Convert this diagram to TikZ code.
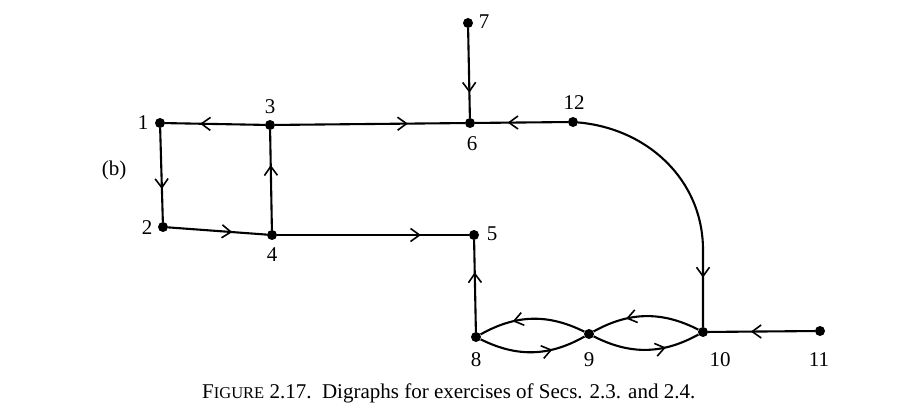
\documentclass[tikz,border=0pt]{standalone}
\usepackage{fontspec}
\setmainfont{Liberation Serif}
\usetikzlibrary{arrows.meta, decorations.markings}

\begin{document}
\begin{tikzpicture}[
        x=1pt, y=1pt,
        vertex/.style={
          circle,
          fill,
          inner sep=0pt,
          minimum size=10pt
        },
        num/.style={
          font=\fontsize{21}{24}\selectfont,
          inner sep=1pt
        },
        edge/.style={
          line width=2.1pt,
          postaction={decorate},
          decoration={markings,
            mark=at position #1 with {\arrow{Straight Barb[length=9pt,width=13pt,line width=1.6pt]}}}
        },
        edge/.default=0.65
      ]

      \useasboundingbox (0,0) rectangle (910,418);

      % Vertices
      \node[vertex] (v1) at (160,295) {};
      \node[vertex] (v2) at (163,191) {};
      \node[vertex] (v3) at (270,293) {};
      \node[vertex] (v4) at (272,183) {};
      \node[vertex] (v5) at (474,183) {};
      \node[vertex] (v6) at (470,295) {};
      \node[vertex] (v7) at (468,395) {};
      \node[vertex] (v8) at (476,81) {};
      \node[vertex] (v9) at (589,84) {};
      \node[vertex] (v10) at (703,86) {};
      \node[vertex] (v11) at (820,87) {};
      \node[vertex] (v12) at (573,296) {};
      \coordinate (bend) at (703,168);

      % Vertex numbers
      \node[num] (l1) at (143,295) {1};
      \node[num] (l2) at (147,190) {2};
      \node[num] (l3) at (270,311) {3};
      \node[num] (l4) at (272,163) {4};
      \node[num] (l5) at (492,184) {5};
      \node[num] (l6) at (472,274) {6};
      \node[num] (l7) at (484,396) {7};
      \node[num] (l8) at (476,58) {8};
      \node[num] (l9) at (589,58) {9};
      \node[num] (l10) at (720,58) {10};
      \node[num] (l11) at (819,58) {11};
      \node[num] (l12) at (574,315) {12};
      \node[num] (b) at (114,248) {(b)};

      % Arcs
      \draw[edge] (v3) -- (v1);
      \draw[edge=0.7] (v3) -- (v6);
      \draw[edge] (v12) -- (v6);
      \draw[edge=0.72] (v7) -- (v6);
      \draw[edge] (v1) -- (v2);
      \draw[edge] (v4) -- (v3);
      \draw[edge] (v2) -- (v4);
      \draw[edge=0.75] (v4) -- (v5);
      \draw[edge] (v8) -- (v5);
      \draw[edge=0.6] (v11) -- (v10);
      \draw[edge=0.82] (v12) to[out=-5, in=90] (bend) -- (v10);
      \draw[edge=0.68] (v8) to[bend right=28] (v9);
      \draw[edge=0.68] (v9) to[bend right=28] (v8);
      \draw[edge=0.68] (v9) to[bend right=28] (v10);
      \draw[edge=0.68] (v10) to[bend right=28] (v9);

      % Caption
      \node[anchor=base west, inner sep=0pt, font=\fontsize{21}{24}\selectfont] (caption) at (202,20)
        {F{\fontsize{16.5}{18}\selectfont IGURE} 2.17.\ \ Digraphs for exercises of Secs. 2.3. and 2.4.};

    \end{tikzpicture}
\end{document}
